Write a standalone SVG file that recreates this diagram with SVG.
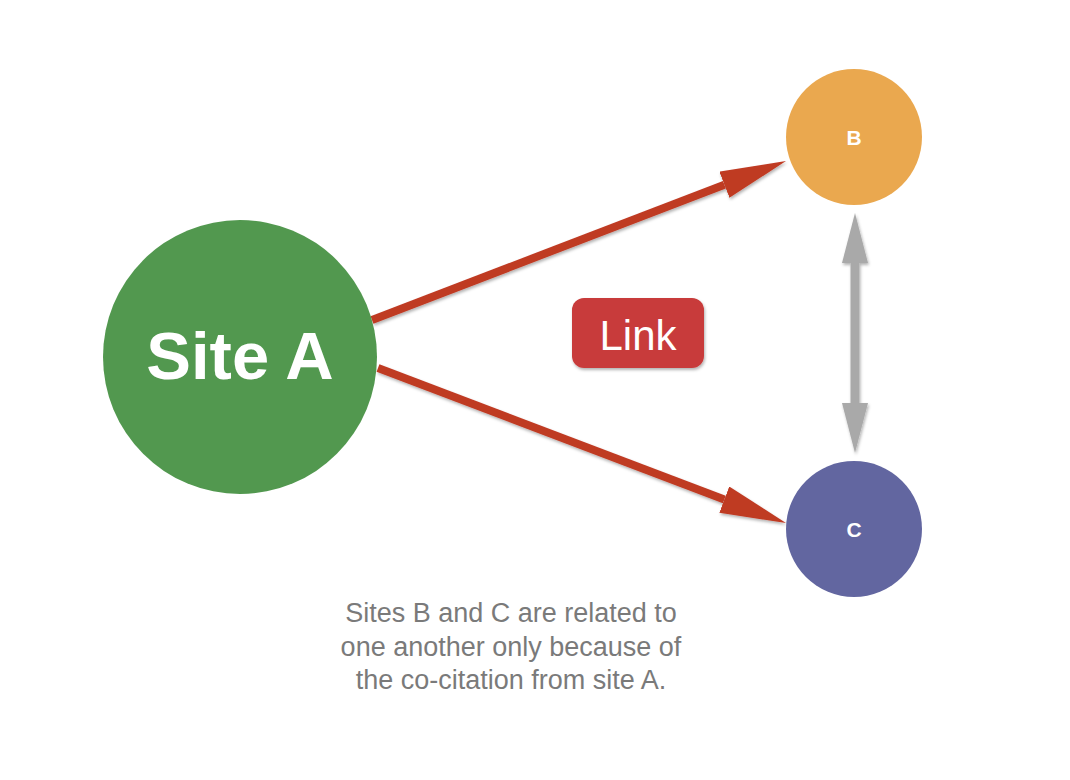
<svg xmlns="http://www.w3.org/2000/svg" width="1070" height="780" viewBox="0 0 1070 780">
  <style>
    .lbl { font-family: "Liberation Sans", Arial, sans-serif; fill: #ffffff; text-anchor: middle; font-weight: bold; }
    .cap { font-family: "Liberation Sans", Arial, sans-serif; fill: #7a7a7a; font-size: 27px; text-anchor: middle; }
    .red { stroke: #bf3a24; stroke-width: 8; fill: none; }
    .gray { stroke: #a9a9a9; stroke-width: 9; fill: none; }
  </style>
  <defs>
    <filter id="sh" x="-20%" y="-20%" width="140%" height="140%">
      <feDropShadow dx="1" dy="2" stdDeviation="1.5" flood-color="#000" flood-opacity="0.3"/>
    </filter>
    <marker id="redHead" markerUnits="userSpaceOnUse" viewBox="0 0 66 28" refX="0" refY="14" markerWidth="66" markerHeight="28" orient="auto">
      <path d="M0,0 L66,14 L0,28 Z" fill="#bf3a24"/>
    </marker>
    <marker id="grayHead" markerUnits="userSpaceOnUse" viewBox="0 0 50 26" refX="0" refY="13" markerWidth="50" markerHeight="26" orient="auto-start-reverse">
      <path d="M0,0 L50,13 L0,26 Z" fill="#a9a9a9"/>
    </marker>
  </defs>
  <rect width="1070" height="780" fill="#ffffff"/>

  <g id="connectors" filter="url(#sh)">
    <line class="red" x1="372" y1="320" x2="724.4" y2="184.7" marker-end="url(#redHead)"/>
    <line class="red" x1="378" y1="368" x2="724.3" y2="499.6" marker-end="url(#redHead)"/>
    <line class="gray" x1="855" y1="263" x2="855" y2="403" marker-start="url(#grayHead)" marker-end="url(#grayHead)"/>
  </g>

  <g id="siteA">
    <circle cx="240" cy="357" r="137" fill="#52984f"/>
    <text class="lbl" x="240" y="379" font-size="67">Site A</text>
  </g>

  <g id="siteB">
    <circle cx="854" cy="137" r="68" fill="#eaa84f"/>
    <text class="lbl" x="854" y="145" font-size="21">B</text>
  </g>

  <g id="siteC">
    <circle cx="854" cy="529" r="68" fill="#6266a0"/>
    <text class="lbl" x="854" y="537" font-size="21">C</text>
  </g>

  <g id="linkLabel">
    <rect x="572" y="298" width="132" height="70" rx="12" fill="#c83b3a" filter="url(#sh)"/>
    <text x="638" y="350" font-family="Liberation Sans, Arial, sans-serif" font-size="42" fill="#ffffff" text-anchor="middle">Link</text>
  </g>

  <g id="caption">
    <text class="cap" x="511" y="622">Sites B and C are related to</text>
    <text class="cap" x="511" y="656">one another only because of</text>
    <text class="cap" x="511" y="689">the co-citation from site A.</text>
  </g>
</svg>
